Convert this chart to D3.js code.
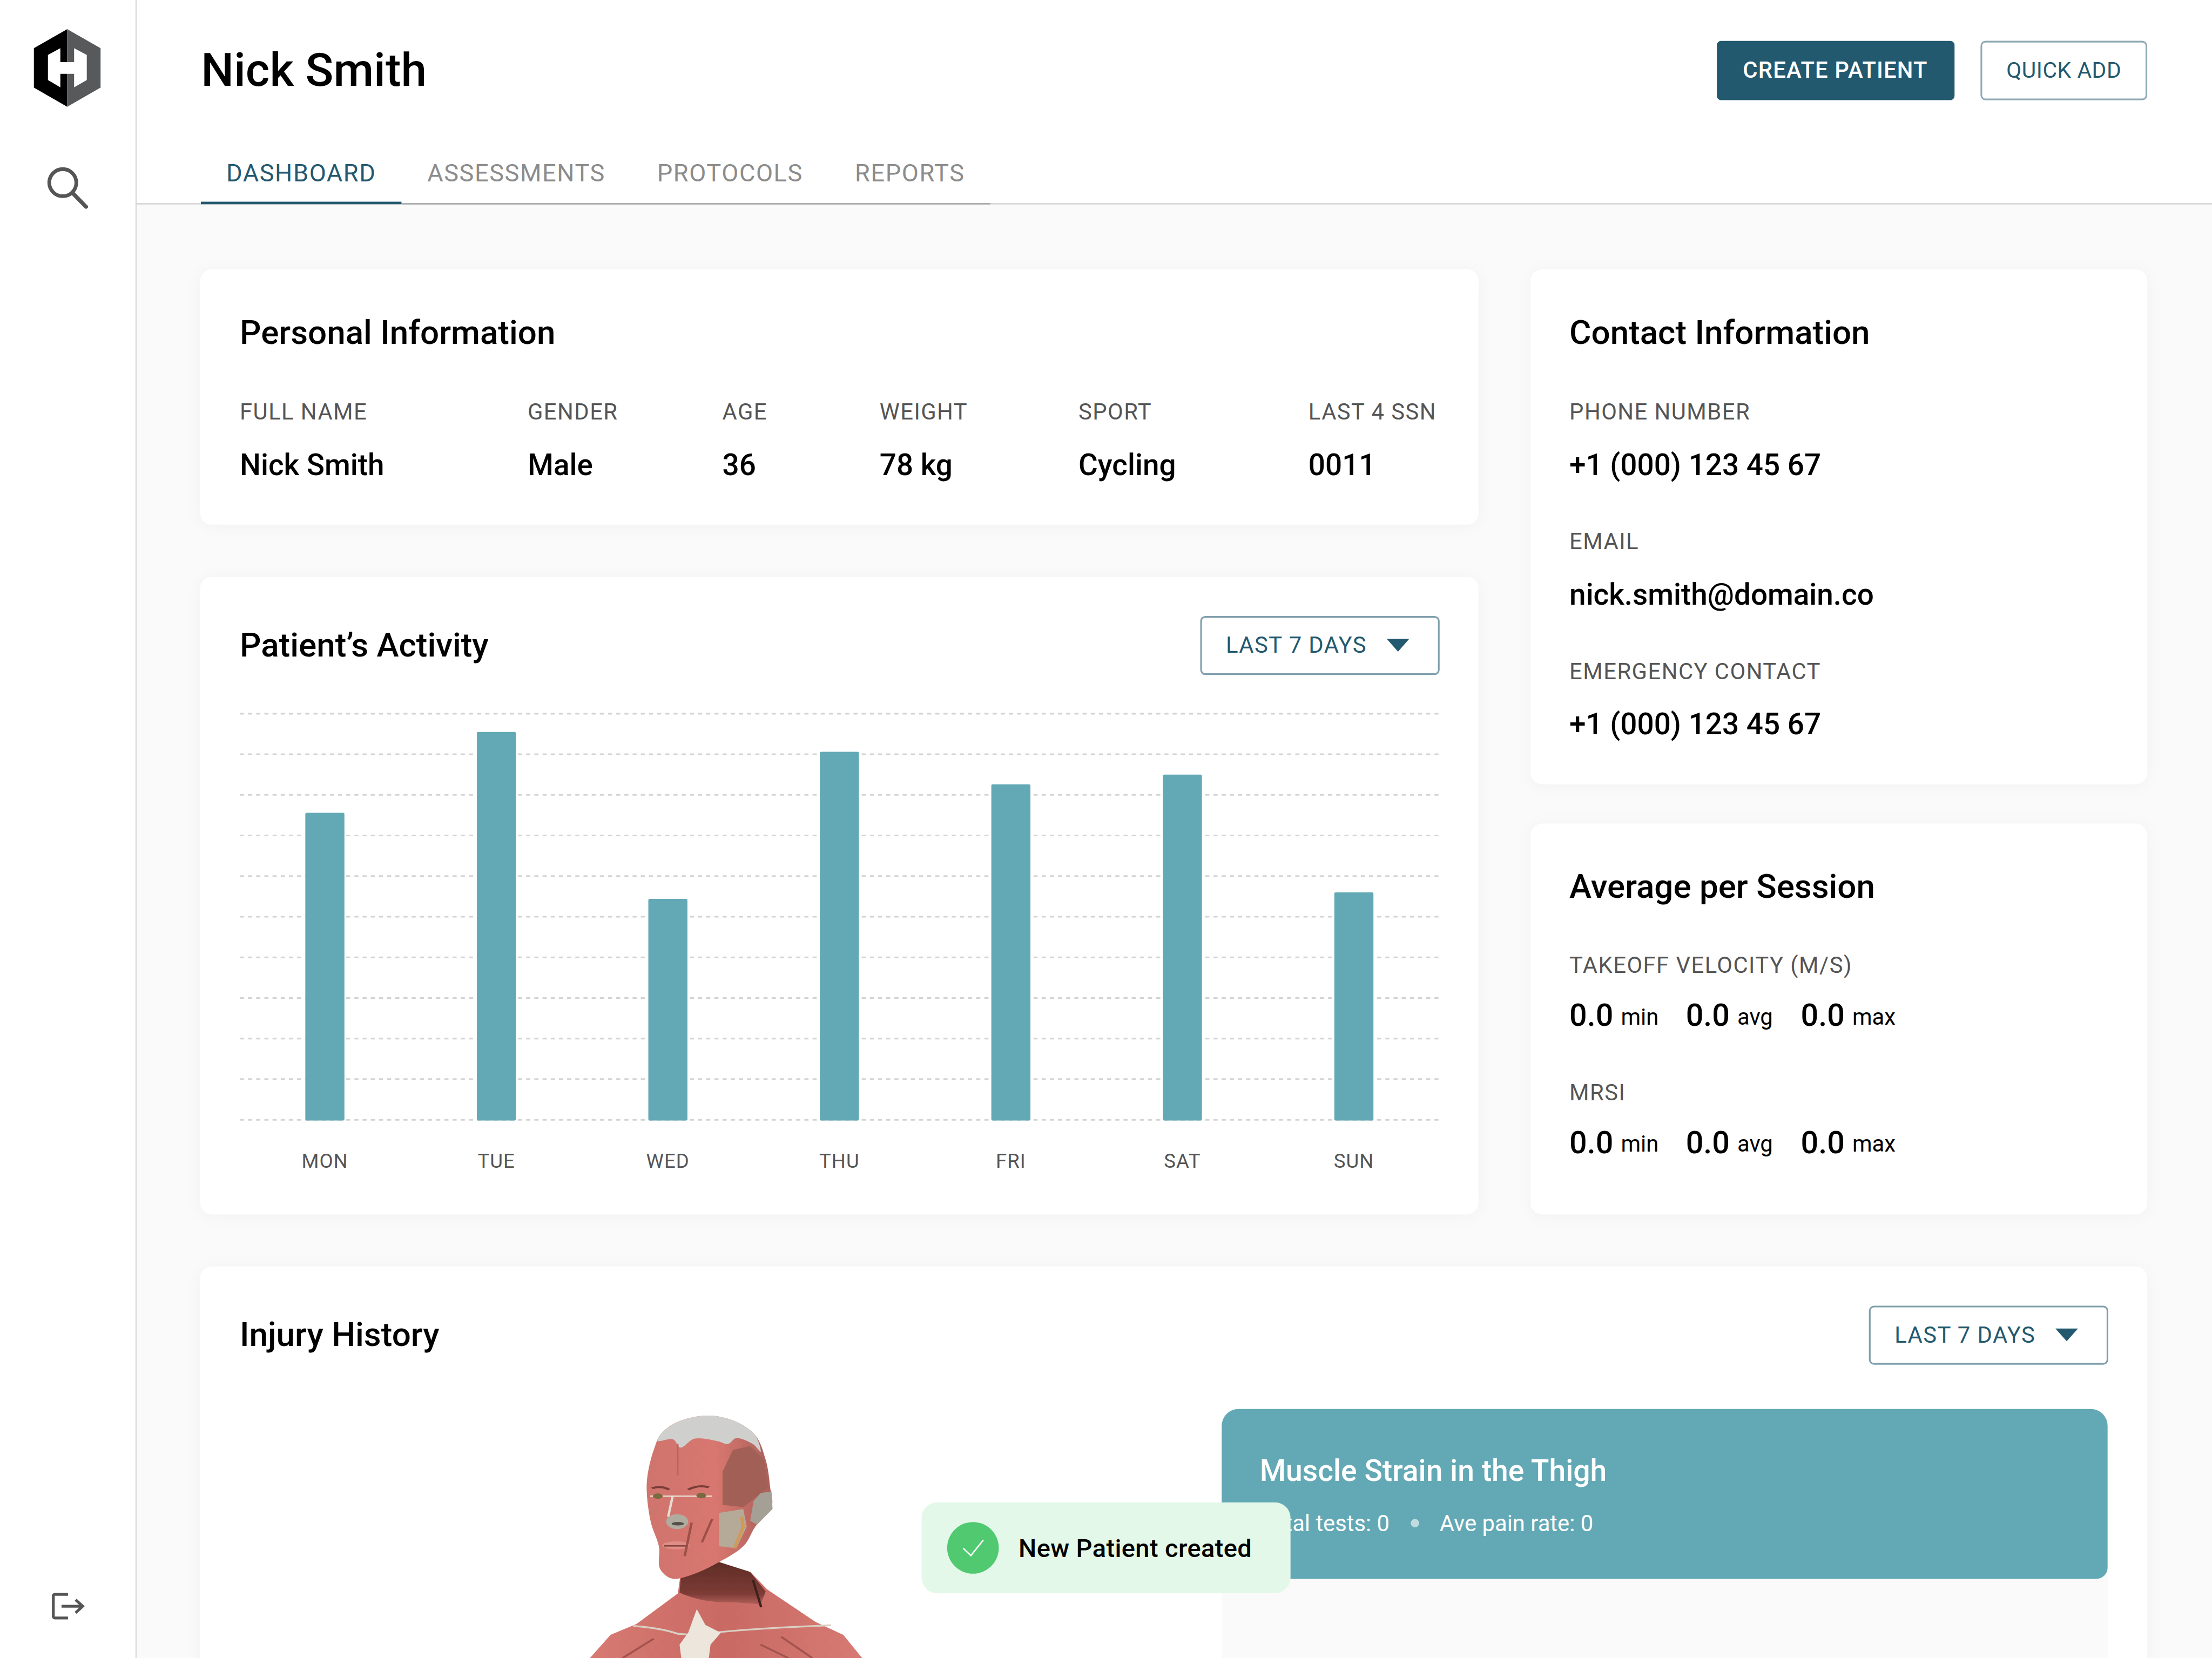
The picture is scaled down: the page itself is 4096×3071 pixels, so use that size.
<!DOCTYPE html>
<html>
<head>
<meta charset="utf-8">
<script src="https://cdn.jsdelivr.net/npm/d3@7"></script>
<style>
  html, body { margin: 0; background: #fafafa; }
  svg { display: block; font-family: Roboto, sans-serif; }
</style>
</head>
<body>
<script>
// values
const days = ['MON', 'TUE', 'WED', 'THU', 'FRI', 'SAT', 'SUN'];
const activity = [75.6, 95.5, 54.4, 90.6, 82.6, 85, 56];
const gridTicks = [0, 10, 20, 30, 40, 50, 60, 70, 80, 90, 100];

const tabs = ['DASHBOARD', 'ASSESSMENTS', 'PROTOCOLS', 'REPORTS'];
const personalLabels = ['FULL NAME', 'GENDER', 'AGE', 'WEIGHT', 'SPORT', 'LAST 4 SSN'];
const personalValues = ['Nick Smith', 'Male', '36', '78 kg', 'Cycling', '0011'];
const contactLabels = ['PHONE NUMBER', 'EMAIL', 'EMERGENCY CONTACT'];
const contactValues = ['+1 (000) 123 45 67', 'nick.smith@domain.co', '+1 (000) 123 45 67'];
const sessionLabels = ['TAKEOFF VELOCITY (M/S)', 'MRSI'];
const sessionUnits = ['min', 'avg', 'max'];
const sessionValues = ['0.0', '0.0', '0.0'];

const teal = '#63a9b5';
const navy = '#23596e';
const grey = '#555555';

// the page was laid out at 1568 wide, then scaled up to the window
const svg = d3.select('body').append('svg')
  .attr('width', 4096)
  .attr('height', 3071)
  .attr('viewBox', '0 0 1568 1175.6');

const defs = svg.append('defs');
const shadow = defs.append('filter').attr('id', 'soft')
  .attr('x', '-5%').attr('y', '-10%').attr('width', '110%').attr('height', '120%');
shadow.append('feDropShadow').attr('dx', 0).attr('dy', 1).attr('stdDeviation', 5)
  .attr('flood-color', '#000').attr('flood-opacity', 0.035);
defs.append('filter').attr('id', 'smudge').append('feGaussianBlur').attr('stdDeviation', 0.45);
const faceGrad = defs.append('linearGradient').attr('id', 'face').attr('x1', 0).attr('x2', 1);
faceGrad.append('stop').attr('offset', 0).attr('stop-color', '#cf746d');
faceGrad.append('stop').attr('offset', 0.55).attr('stop-color', '#d8776f');
faceGrad.append('stop').attr('offset', 1).attr('stop-color', '#a9605a');
const neckGrad = defs.append('linearGradient').attr('id', 'neck').attr('x1', 0).attr('x2', 0).attr('y1', 0).attr('y2', 1);
neckGrad.append('stop').attr('offset', 0).attr('stop-color', '#5f2d27');
neckGrad.append('stop').attr('offset', 0.75).attr('stop-color', '#7c3b35');
neckGrad.append('stop').attr('offset', 1).attr('stop-color', '#b2605a');
const chestGrad = defs.append('linearGradient').attr('id', 'chest').attr('x1', 0).attr('x2', 1);
chestGrad.append('stop').attr('offset', 0).attr('stop-color', '#d77a72');
chestGrad.append('stop').attr('offset', 0.5).attr('stop-color', '#c96a64');
chestGrad.append('stop').attr('offset', 1).attr('stop-color', '#d67a73');

function label(parent, x, y, str, size, opts = {}) {
  return parent.append('text')
    .attr('x', x)
    .attr('y', y)
    .attr('font-size', size)
    .attr('font-weight', opts.weight || 400)
    .attr('fill', opts.fill || '#000')
    .attr('letter-spacing', opts.spacing || 0)
    .attr('text-anchor', opts.anchor || 'start')
    .text(str);
}

function card(x, y, w, h) {
  svg.append('rect')
    .attr('x', x).attr('y', y).attr('width', w).attr('height', h)
    .attr('rx', 8).attr('fill', '#fff').attr('filter', 'url(#soft)');
}

function dropdown(x, y) {
  svg.append('rect')
    .attr('x', x + 0.4).attr('y', y + 0.4).attr('width', 168.5).attr('height', 40.6)
    .attr('rx', 3).attr('fill', '#fff').attr('stroke', '#7f9fac').attr('stroke-width', 1.2);
  label(svg, x + 18, y + 26, 'LAST 7 DAYS', 16, { fill: navy, spacing: 0.55 });
  svg.append('path')
    .attr('d', `M${x + 132},${y + 16}h16l-8,9z`)
    .attr('fill', navy);
}

// header and sidebar
svg.append('rect').attr('width', 1568).attr('height', 144.5).attr('fill', '#fff');
svg.append('rect').attr('width', 96).attr('height', 1176).attr('fill', '#fff');
svg.append('rect').attr('x', 96).attr('width', 1.1).attr('height', 1176).attr('fill', '#dddddd');
svg.append('rect').attr('x', 96).attr('y', 144).attr('width', 1472).attr('height', 1).attr('fill', '#d6d6d6');

const logo = svg.append('g').attr('transform', 'scale(0.1953,0.1276)');
logo.append('path').attr('d', 'M244,162L123,268V487L244,593Z').attr('fill', '#000');
logo.append('path').attr('d', 'M244,162L365,268V487L244,593Z').attr('fill', '#58595b');
logo.append('path')
  .attr('d', 'M219,268V345H269V268L315,305V445L269,485V410H219V485L174,445V305Z')
  .attr('fill', '#fff');

svg.append('circle').attr('cx', 44.5).attr('cy', 129.5).attr('r', 9.6)
  .attr('fill', 'none').attr('stroke', grey).attr('stroke-width', 2.6);
svg.append('path').attr('d', 'M51.6,137L61,146.6')
  .attr('stroke', grey).attr('stroke-width', 2.8).attr('stroke-linecap', 'round');

svg.append('path').attr('d', 'M48.2,1130.5H38.8a1,1 0 0 0 -1,1V1146.2a1,1 0 0 0 1,1H48.2')
  .attr('fill', 'none').attr('stroke', grey).attr('stroke-width', 2);
svg.append('path').attr('d', 'M43.6,1138.9H58M53.6,1134.3L58.6,1138.9L53.6,1143.6')
  .attr('fill', 'none').attr('stroke', grey).attr('stroke-width', 2);

label(svg, 142.5, 61, 'Nick Smith', 32.8, { weight: 500 });

svg.append('rect').attr('x', 1217).attr('y', 29).attr('width', 168.5).attr('height', 42)
  .attr('rx', 3).attr('fill', navy);
label(svg, 1301, 55, 'CREATE PATIENT', 16, { weight: 500, fill: '#fff', spacing: 0.45, anchor: 'middle' });
svg.append('rect').attr('x', 1404.5).attr('y', 29.5).attr('width', 117).attr('height', 41)
  .attr('rx', 3).attr('fill', '#fff').attr('stroke', '#8fa9b4').attr('stroke-width', 1.2);
label(svg, 1463, 55, 'QUICK ADD', 15.6, { fill: navy, spacing: 0.22, anchor: 'middle' });

const tabX = [213.5, 366, 517.5, 645];
tabs.forEach((t, i) => {
  label(svg, tabX[i], 128.5, t, 17.3, {
    fill: i === 0 ? navy : '#8c8c8c', spacing: 0.6, anchor: 'middle'
  });
});
svg.append('rect').attr('x', 285).attr('y', 144).attr('width', 417).attr('height', 1).attr('fill', '#a9a9a9');
svg.append('rect').attr('x', 142.4).attr('y', 143).attr('width', 142.2).attr('height', 1.8).attr('fill', navy);

// cards
card(142, 191, 906, 181);
card(1085, 191, 437, 365);
card(142, 409, 906, 452);
card(1085, 584, 437, 277);
card(142, 898, 1380, 290);

label(svg, 170, 244, 'Personal Information', 23.7, { weight: 500 });
const personalX = [170, 374, 512, 623.5, 764.5, 927.5];
personalLabels.forEach((t, i) => {
  label(svg, personalX[i], 297.5, t, 16, { fill: grey, spacing: 0.55 });
  label(svg, personalX[i], 337, personalValues[i], 21, { weight: 500 });
});

label(svg, 1112.5, 244, 'Contact Information', 23.7, { weight: 500 });
contactLabels.forEach((t, i) => {
  label(svg, 1112.5, 297.5 + i * 92, t, 16, { fill: grey, spacing: 0.55 });
  label(svg, 1112.5, 337 + i * 91.8, contactValues[i], 21, { weight: 500 });
});

label(svg, 1112.5, 636.5, 'Average per Session', 23.7, { weight: 500 });
const sessionX = [1112.5, 1195, 1276.5];
sessionLabels.forEach((t, i) => {
  const dy = i * 90;
  label(svg, 1112.5, 690 + dy, t, 16, { fill: grey, spacing: 0.55 });
  sessionUnits.forEach((u, j) => {
    label(svg, sessionX[j], 727.5 + dy, sessionValues[j], 22, { weight: 500 });
    label(svg, sessionX[j] + 36.5, 726.5 + dy, u, 16, {});
  });
});

// activity chart
label(svg, 170, 465.5, 'Patient\u2019s Activity', 23.7, { weight: 500 });
dropdown(851, 437);

const x = d3.scaleBand()
  .domain(days)
  .range([169.5, 1020.5])
  .paddingInner(0.772)
  .paddingOuter(0.386);

const y = d3.scaleLinear()
  .domain([0, 100])
  .range([794, 506]);

const grid = svg.append('g')
  .attr('transform', 'translate(170,0)')
  .call(d3.axisLeft(y).tickValues(gridTicks).tickSize(-851).tickFormat('').offset(0));
grid.select('.domain').remove();
grid.selectAll('line')
  .attr('stroke', '#d4d4d4')
  .attr('stroke-width', 1.2)
  .attr('stroke-dasharray', '2.9,2.9');

svg.append('g').selectAll('rect')
  .data(days)
  .enter()
  .append('rect')
  .attr('x', d => x(d))
  .attr('y', (d, i) => y(activity[i]))
  .attr('width', x.bandwidth())
  .attr('height', (d, i) => y(0) - y(activity[i]) + 0.5)
  .attr('rx', 1)
  .attr('fill', teal);

const dayAxis = svg.append('g')
  .attr('transform', 'translate(0,794)')
  .call(d3.axisBottom(x).tickSize(0).tickPadding(24));
dayAxis.select('.domain').remove();
dayAxis.selectAll('text')
  .attr('font-family', 'Roboto, sans-serif')
  .attr('font-size', 14)
  .attr('fill', grey)
  .attr('letter-spacing', 0.4);

// injury history
label(svg, 170, 954.5, 'Injury History', 23.7, { weight: 500 });
dropdown(1325, 926);

// anatomy picture, roughly, in its own stretched coordinates
const smooth = d3.line().curve(d3.curveCatmullRomClosed);
const headOutline = [[490, 335], [410, 360], [355, 420], [330, 510], [312, 640], [310, 730], [322, 880],
  [345, 1000], [350, 1120], [385, 1165], [440, 1145], [520, 1080], [590, 1000], [625, 900], [672, 800],
  [668, 700], [655, 560], [622, 430], [560, 360]];
const capOutline = [[490, 335], [410, 360], [355, 420], [342, 465], [385, 455], [408, 498], [450, 452],
  [515, 465], [545, 480], [570, 450], [618, 480], [640, 520], [622, 430], [560, 360]];

const body = svg.append('g')
  .attr('transform', 'translate(382.8,957) scale(0.2442,0.1394)')
  .attr('filter', 'url(#smudge)');
body.append('path')
  .attr('d', 'M410,1120L400,1240L280,1395L205,1450L145,1568V1600H935V1568L880,1450L800,1385L660,1220L610,1130Z')
  .attr('fill', 'url(#chest)');
body.append('path')
  .attr('d', 'M410,1130L405,1235Q470,1290 560,1285L640,1295L655,1230L610,1130L520,1080Z')
  .attr('fill', 'url(#neck)');
body.append('path')
  .attr('d', 'M270,1405Q350,1415 400,1445L440,1450L530,1435Q650,1415 845,1402')
  .attr('fill', 'none').attr('stroke', '#d9cfc3').attr('stroke-width', 9);
body.append('path')
  .attr('d', 'M455,1320L480,1400L525,1440L495,1500L490,1568H410L405,1500L430,1440Z')
  .attr('fill', '#ece6dc');
body.append('path').attr('d', 'M240,1568L330,1470M640,1500L720,1568M700,1460L790,1568')
  .attr('stroke', '#a3524d').attr('stroke-width', 8).attr('fill', 'none');
body.append('path').attr('d', smooth(headOutline)).attr('fill', 'url(#face)');
body.append('path').attr('d', smooth(capOutline)).attr('fill', '#cfcfce');
body.append('path').attr('d', 'M400,480V640').attr('stroke', '#b9655f').attr('stroke-width', 4);
body.append('path')
  .attr('d', 'M530,790L530,620L560,510L610,490L650,560L662,700L620,760L590,800Z')
  .attr('fill', '#a25e55');
body.append('path')
  .attr('d', 'M620,770L640,730L672,720L675,810L630,890L610,870Z')
  .attr('fill', '#a5a095');
body.append('path')
  .attr('d', 'M520,830L590,810L600,900L570,1010L520,1000Z')
  .attr('fill', '#b5aa98');
body.append('path').attr('d', 'M585,850L590,900L565,1010')
  .attr('stroke', '#cf9a5a').attr('stroke-width', 10).attr('fill', 'none');
body.append('path')
  .attr('d', 'M320,745H500M385,745L372,850')
  .attr('stroke', '#e6ddd0').attr('stroke-width', 7).attr('fill', 'none');
body.append('path').attr('d', 'M325,705Q350,690 375,712M430,712Q460,685 490,700')
  .attr('stroke', '#7a3d37').attr('stroke-width', 10).attr('fill', 'none');
body.append('ellipse').attr('cx', 342).attr('cy', 745).attr('rx', 14).attr('ry', 14).attr('fill', '#7a6a40');
body.append('ellipse').attr('cx', 468).attr('cy', 742).attr('rx', 14).attr('ry', 14).attr('fill', '#7a6a40');
body.append('ellipse').attr('cx', 398).attr('cy', 875).attr('rx', 32).attr('ry', 38).attr('fill', '#b0ab9f');
body.append('ellipse').attr('cx', 400).attr('cy', 885).attr('rx', 18).attr('ry', 9).attr('fill', '#555049');
body.append('ellipse').attr('cx', 395).attr('cy', 995).attr('rx', 40).attr('ry', 20).attr('fill', '#e08d85');
body.append('path').attr('d', 'M360,998H430').attr('stroke', '#6d332c').attr('stroke-width', 6);
body.append('path').attr('d', 'M440,880L420,1050M500,860L470,980')
  .attr('stroke', '#9c4f49').attr('stroke-width', 7).attr('fill', 'none');
body.append('path').attr('d', 'M618,1170L642,1310').attr('stroke', '#3a211c').attr('stroke-width', 7);

// injury panel
svg.append('rect').attr('x', 866).attr('y', 1110).attr('width', 628).attr('height', 66).attr('fill', '#fafafa');
svg.append('path')
  .attr('d', 'M878,999H1482a12,12 0 0 1 12,12V1111.5a8,8 0 0 1 -8,8H866V1011a12,12 0 0 1 12,-12Z')
  .attr('fill', teal);
label(svg, 893, 1050, 'Muscle Strain in the Thigh', 21.15, { weight: 500, fill: '#fff' });
label(svg, 893, 1085.5, 'Total tests: 0', 16, { fill: '#fff' });
svg.append('circle').attr('cx', 1003).attr('cy', 1080).attr('r', 3).attr('fill', '#fff').attr('opacity', 0.6);
label(svg, 1020.5, 1085.5, 'Ave pain rate: 0', 16, { fill: '#fff' });

// toast
svg.append('rect').attr('x', 653.3).attr('y', 1065.3).attr('width', 261.5).attr('height', 64.3)
  .attr('rx', 11).attr('fill', '#e3f8e8');
svg.append('circle').attr('cx', 689.7).attr('cy', 1097.5).attr('r', 18.3).attr('fill', '#50c970');
svg.append('path').attr('d', 'M682.8,1097.8L688.2,1103L697,1092')
  .attr('fill', 'none').attr('stroke', '#fff').attr('stroke-width', 1);
label(svg, 722, 1104, 'New Patient created', 18, { weight: 500, spacing: 0.14 });
</script>
</body>
</html>
